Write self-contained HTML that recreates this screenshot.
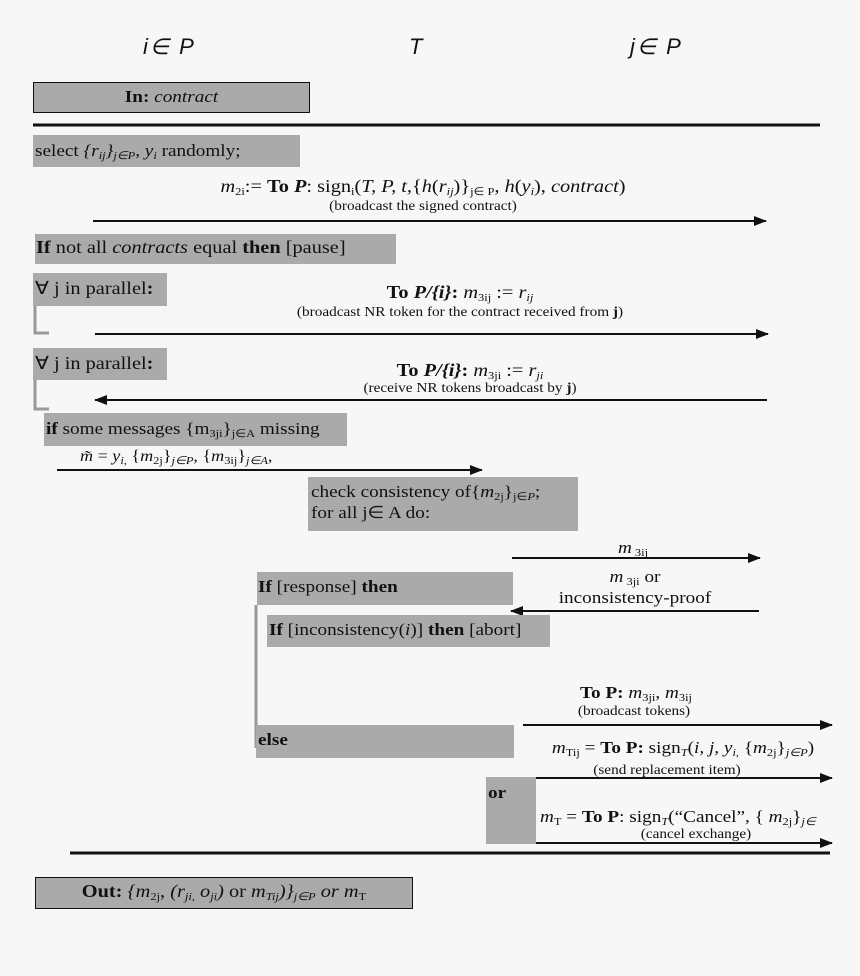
<!DOCTYPE html>
<html><head><meta charset="utf-8">
<style>
html,body{margin:0;padding:0;background:#f7f7f7;}
body{width:860px;height:976px;position:relative;overflow:hidden;font-family:"Liberation Serif",serif;color:#111;}
.b{position:absolute;background:#aaaaaa;}
.t{position:absolute;white-space:nowrap;font-size:17px;line-height:19px;transform-origin:left top;transform:scaleX(1.13);}
.c{position:absolute;white-space:nowrap;text-align:center;transform-origin:center top;transform:translateX(-50%) scaleX(1.13);}
.cb{transform-origin:center top;}
.s{font-size:13.5px;line-height:14px;}
.h{position:absolute;font-family:"Liberation Sans",sans-serif;font-style:italic;font-size:22px;letter-spacing:2px;}
sub{font-size:11px;vertical-align:-3px;line-height:0;}
i{font-style:italic;}
</style></head><body>
<svg width="860" height="976" style="position:absolute;left:0;top:0">
<defs>
<marker id="a" markerWidth="13" markerHeight="10" refX="12" refY="5" orient="auto" markerUnits="userSpaceOnUse"><path d="M0,0 L13,5 L0,10 z" fill="#111"/></marker>
</defs>
<g stroke="#111" fill="none">
<line x1="33" y1="125" x2="820" y2="125" stroke-width="3"/>
<line x1="93" y1="221" x2="766" y2="221" stroke-width="2" marker-end="url(#a)"/>
<line x1="95" y1="334" x2="768" y2="334" stroke-width="2" marker-end="url(#a)"/>
<line x1="767" y1="400" x2="95" y2="400" stroke-width="2" marker-end="url(#a)"/>
<line x1="57" y1="470" x2="482" y2="470" stroke-width="2" marker-end="url(#a)"/>
<line x1="512" y1="558" x2="760" y2="558" stroke-width="2" marker-end="url(#a)"/>
<line x1="759" y1="611" x2="511" y2="611" stroke-width="2" marker-end="url(#a)"/>
<line x1="523" y1="725" x2="832" y2="725" stroke-width="2" marker-end="url(#a)"/>
<line x1="523" y1="778" x2="832" y2="778" stroke-width="2" marker-end="url(#a)"/>
<line x1="523" y1="843" x2="832" y2="843" stroke-width="2" marker-end="url(#a)"/>
<line x1="70" y1="853" x2="830" y2="853" stroke-width="3"/>
</g>
<g stroke="#999" fill="none" stroke-width="3">
<polyline points="35,306 35,333 49,333"/>
<polyline points="35,380 35,409 49,409"/>
<line x1="256" y1="605" x2="256" y2="748"/>
</g>
</svg>

<div class="h" style="left:143px;top:34px">i∈ P</div>
<div class="h" style="left:409px;top:34px">T</div>
<div class="h" style="left:630px;top:34px">j∈ P</div>

<div class="b" style="left:33px;top:82px;width:275px;height:29px;border:1px solid #111;"></div>
<div class="t cb" style="left:33px;top:87px;width:277px;text-align:center"><b>In:</b> <i>contract</i></div>

<div class="b" style="left:33px;top:135px;width:267px;height:32px"></div>
<div class="t" style="left:35px;top:141px">select <i>{r<sub>ij</sub>}<sub>j∈P</sub>, y<sub>i</sub></i> randomly;</div>

<div class="t c" style="left:423px;top:177px;font-size:18px"><i>m</i><sub>2i</sub>:= <b>To <i>P</i></b>: sign<sub>i</sub>(<i>T, P, t,</i>{<i>h</i>(<i>r<sub>ij</sub></i>)}<sub>j∈ P</sub>, <i>h</i>(<i>y<sub>i</sub></i>), <i>contract</i>)</div>
<div class="t c s" style="left:423px;top:199px">(broadcast the signed contract)</div>

<div class="b" style="left:35px;top:234px;width:361px;height:30px"></div>
<div class="t" style="left:36px;top:238px;font-size:18px"><b>If</b> not all <i>contracts</i> equal <b>then</b> [pause]</div>

<div class="b" style="left:33px;top:273px;width:134px;height:33px"></div>
<div class="t" style="left:35px;top:279px;font-size:18px">∀ j in parallel<b>:</b></div>
<div class="t c" style="left:460px;top:283px;font-size:18px"><b>To <i>P/{i}</i>:</b> <i>m</i><sub>3ij</sub> := <i>r<sub>ij</sub></i></div>
<div class="t c s" style="left:460px;top:305px">(broadcast NR token for the contract received from <b>j</b>)</div>

<div class="b" style="left:33px;top:348px;width:134px;height:32px"></div>
<div class="t" style="left:35px;top:354px;font-size:18px">∀ j in parallel<b>:</b></div>
<div class="t c" style="left:470px;top:361px;font-size:18px"><b>To <i>P/{i}</i>:</b> <i>m</i><sub>3ji</sub> := <i>r<sub>ji</sub></i></div>
<div class="t c s" style="left:470px;top:381px">(receive NR tokens broadcast by <b>j</b>)</div>

<div class="b" style="left:44px;top:413px;width:303px;height:33px"></div>
<div class="t" style="left:46px;top:419px"><b>if</b> some messages {m<sub>3ji</sub>}<sub>j∈A</sub> missing</div>
<div class="t" style="left:80px;top:447px;font-size:16px"><i>m&#771;</i> = <i>y<sub>i,</sub></i> {<i>m</i><sub>2j</sub>}<sub><i>j∈P</i></sub>, {<i>m</i><sub>3ij</sub>}<sub><i>j∈A</i></sub>,</div>

<div class="b" style="left:308px;top:477px;width:270px;height:54px"></div>
<div class="t" style="left:311px;top:482px">check consistency of{<i>m</i><sub>2j</sub>}<sub>j∈<i>P</i></sub>;</div>
<div class="t" style="left:311px;top:503px">for all j∈ A do:</div>

<div class="t c" style="left:633px;top:538px"><i>m</i><sub> 3ij</sub></div>

<div class="b" style="left:257px;top:572px;width:256px;height:33px"></div>
<div class="t" style="left:258px;top:577px"><b>If</b> [response] <b>then</b></div>
<div class="t c" style="left:635px;top:567px"><i>m</i><sub> 3ji</sub> or</div>
<div class="t c" style="left:635px;top:588px">inconsistency-proof</div>

<div class="b" style="left:267px;top:615px;width:283px;height:32px"></div>
<div class="t" style="left:269px;top:620px"><b>If</b> [inconsistency(<i>i</i>)] <b>then</b> [abort]</div>

<div class="t c" style="left:636px;top:683px"><b>To P:</b> <i>m</i><sub>3ji</sub>, <i>m</i><sub>3ij</sub></div>
<div class="t c s" style="left:634px;top:704px">(broadcast tokens)</div>

<div class="b" style="left:256px;top:725px;width:258px;height:33px"></div>
<div class="t" style="left:258px;top:730px"><b>else</b></div>
<div class="t c" style="left:683px;top:738px"><i>m</i><sub>Tij</sub> = <b>To P:</b> sign<sub><i>T</i></sub>(<i>i, j, y<sub>i,</sub></i> {<i>m</i><sub>2j</sub>}<sub><i>j∈P</i></sub>)</div>
<div class="t c s" style="left:667px;top:763px">(send replacement item)</div>

<div class="b" style="left:486px;top:777px;width:50px;height:67px"></div>
<div class="t" style="left:488px;top:783px"><b>or</b></div>
<div class="t" style="left:540px;top:807px"><i>m</i><sub>T</sub> = <b>To P</b>: sign<sub><i>T</i></sub>(“Cancel”, { <i>m</i><sub>2j</sub>}<sub><i>j∈</i></sub></div>
<div class="t c s" style="left:696px;top:827px">(cancel exchange)</div>

<div class="b" style="left:35px;top:877px;width:376px;height:30px;border:1px solid #111"></div>
<div class="t cb" style="left:35px;top:882px;width:378px;text-align:center;font-size:18px"><b>Out:</b> <i>{m</i><sub>2j</sub>, <i>(r<sub>ji,</sub> o<sub>ji</sub>)</i> or <i>m<sub>Tij</sub>)}<sub>j∈P</sub> or m</i><sub>T</sub></div>
</body></html>
